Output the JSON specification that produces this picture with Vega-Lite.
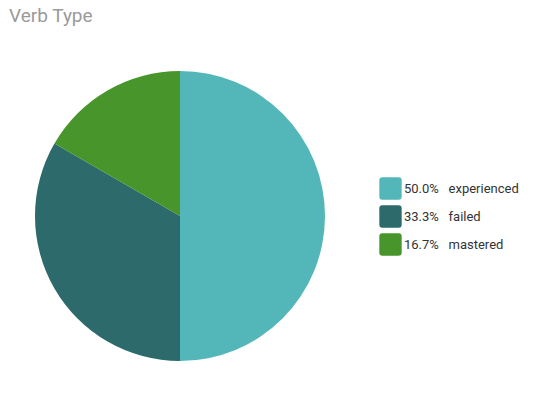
{
  "$schema": "https://vega.github.io/schema/vega-lite/v6.json",
  "width": 290,
  "height": 290,
  "autosize": {"type": "none"},
  "padding": {"left": 35, "top": 71, "right": 226, "bottom": 40},
  "background": "white",
  "title": {
    "text": "Verb Type",
    "anchor": "start",
    "frame": "group",
    "dx": -26,
    "offset": 45,
    "fontSize": 19,
    "font": "Roboto",
    "fontWeight": "normal",
    "color": "#9a9a9a"
  },
  "data": {
    "values": [
      {"type": "experienced", "count": 3, "rank": 1, "label": "50.0%\u00a0\u00a0\u00a0experienced"},
      {"type": "failed", "count": 2, "rank": 2, "label": "33.3%\u00a0\u00a0\u00a0failed"},
      {"type": "mastered", "count": 1, "rank": 3, "label": "16.7%\u00a0\u00a0\u00a0mastered"}
    ]
  },
  "mark": {"type": "arc", "strokeWidth": 0},
  "encoding": {
    "theta": {"field": "count", "type": "quantitative", "stack": true},
    "order": {"field": "rank", "type": "quantitative"},
    "color": {
      "field": "label",
      "type": "nominal",
      "scale": {
        "domain": ["50.0%\u00a0\u00a0\u00a0experienced", "33.3%\u00a0\u00a0\u00a0failed", "16.7%\u00a0\u00a0\u00a0mastered"],
        "range": ["#53b7ba", "#2d6a6b", "#47952b"]
      },
      "legend": {
        "title": null,
        "orient": "none",
        "legendX": 344,
        "legendY": 106,
        "symbolType": "M-0.73,-1H0.73Q1,-1,1,-0.73V0.73Q1,1,0.73,1H-0.73Q-1,1,-1,0.73V-0.73Q-1,-1,-0.73,-1Z",
        "symbolSize": 500,
        "symbolStrokeWidth": 0,
        "symbolOpacity": 1,
        "rowPadding": 5,
        "labelOffset": 2,
        "labelFont": "Roboto",
        "labelFontSize": 13,
        "labelColor": "#333333",
        "labelLimit": 300
      }
    }
  },
  "config": {"view": {"stroke": null}}
}
